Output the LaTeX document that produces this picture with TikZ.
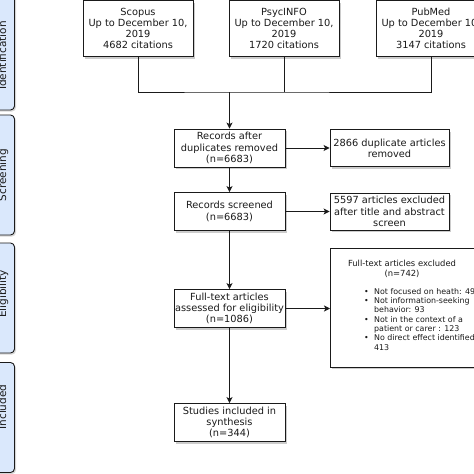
\documentclass[tikz,border=0pt]{standalone}
\usepackage{fontspec}
\setmainfont{DejaVu Sans}
\usetikzlibrary{arrows.meta,shadows}
\definecolor{stagefill}{HTML}{DAE8FC}
\definecolor{ink}{HTML}{1A1A1A}
\begin{document}
\begin{tikzpicture}[x=1pt,y=-1pt,
  box/.style={draw=ink, line width=0.9pt, fill=white,
    drop shadow={shadow xshift=2pt,shadow yshift=-2pt,fill=black!40,opacity=0.5},
    inner sep=1pt, align=center, text=ink, font=\fontsize{9.8}{11.2}\selectfont},
  mainbox/.style={box, minimum width=111pt, minimum height=38pt},
  sidebox/.style={box, minimum width=119pt, minimum height=37pt},
  srcbox/.style={box, minimum width=110pt, minimum height=56pt},
  stage/.style={draw=ink, line width=0.9pt, fill=stagefill, rounded corners=4pt,
    drop shadow={shadow xshift=1.5pt,shadow yshift=-1.5pt,fill=black!40,opacity=0.4},
    minimum width=25pt},
  stagelabel/.style={rotate=90, anchor=base, inner sep=0pt, text=ink, font=\fontsize{10.5}{12}\selectfont},
  ln/.style={draw=ink, line width=0.9pt},
  arr/.style={ln, -{Stealth[length=6pt,width=6pt,inset=1.5pt]}}]
\useasboundingbox (0,0) rectangle (474,474);
\clip (0,0) rectangle (474,474);

% stage boxes and labels
\node[stage, minimum height=120pt] (sid) at (2,50) {};
\node[stage, minimum height=120pt] (sscr) at (2,175) {};
\node[stage, minimum height=110pt] (selig) at (2,298) {};
\node[stage, minimum height=110pt] (sinc) at (2,417.5) {};
\node[stagelabel] (lid) at (6,55.5) {Identification};
\node[stagelabel] (lscr) at (6,175) {Screening};
\node[stagelabel] (lelig) at (6,294) {Eligibility};
\node[stagelabel] (linc) at (6,407) {Included};

% sources
\node[srcbox] (scopus) at (138,28.5) {Scopus\\Up to December 10,\\2019\\4682 citations};
\node[srcbox] (psyc) at (284,28.5) {PsycINFO\\Up to December 10,\\2019\\1720 citations};
\node[srcbox] (pubmed) at (431,28.5) {PubMed\\Up to December 10,\\2019\\3147 citations};

% main flow
\node[mainbox] (rad) at (229.5,148) {Records after\\duplicates removed\\(n=6683)};
\node[mainbox] (rs) at (229.5,211.5) {Records screened\\(n=6683)};
\node[mainbox] (fta) at (229.5,308.5) {Full-text articles\\assessed for eligibility\\(n=1086)};
\node[mainbox] (sis) at (229.5,422.5) {Studies included in\\synthesis\\(n=344)};

% side boxes
\node[sidebox] (dup) at (389.5,148) {2866 duplicate articles\\removed};
\node[sidebox] (ex1) at (389.5,211.5) {5597 articles excluded\\after title and abstract\\screen};
\node[box, minimum width=146pt, minimum height=119pt, anchor=north west] (ex2) at (330,248) {};
\node[align=center, text=ink, font=\fontsize{8.4}{9.8}\selectfont, inner sep=0pt] (ex2t) at (402,268.5)
  {Full-text articles excluded\\(n=742)};
\node[anchor=north west, text=ink, font=\fontsize{7.9}{9.3}\selectfont, inner sep=0pt] (ex2l) at (364,287.5)
  {\begin{tabular}{@{}l@{\hspace{5.3pt}}l@{}}
   \textbullet & Not focused on heath: 49\\
   \textbullet & Not information-seeking\\
               & behavior: 93\\
   \textbullet & Not in the context of a\\
               & patient or carer : 123\\
   \textbullet & No direct effect identified\\
               & 413
   \end{tabular}};

% connectors
\coordinate (jm) at (229.5,92);
\draw[ln] (scopus.south) |- (jm) -| (pubmed.south);
\draw[ln] (psyc.south) -- (psyc.south |- jm);
\draw[arr] (jm) -- (rad.north);
\draw[arr] (rad) -- (rs);
\draw[arr] (rs) -- (fta);
\draw[arr] (fta) -- (sis);
\draw[arr] (rad) -- (dup);
\draw[arr] (rs) -- (ex1);
\draw[arr] (fta) -- (fta -| ex2.west);
\end{tikzpicture}
\end{document}
